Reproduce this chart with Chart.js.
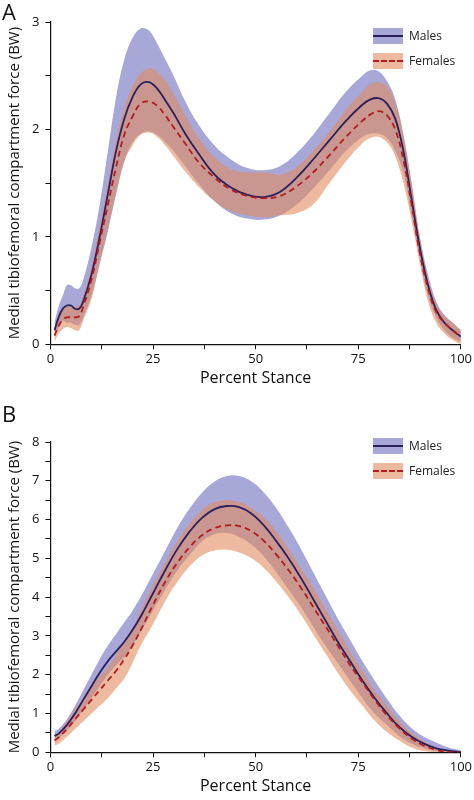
<!DOCTYPE html>
<html><head><meta charset="utf-8">
<script src="https://cdn.jsdelivr.net/npm/chart.js@4"></script>
<style>
body{margin:0;background:#fff;font-family:"Open Sans",sans-serif;}
.wrap{position:relative;width:474px;}
.lab{position:absolute;left:2px;font-size:22px;color:#111;}
.leg{position:absolute;font-size:12px;color:#222;}
.leg div{position:relative;height:22px;margin-bottom:3px;}
.sw{position:absolute;left:0;top:0;width:30px;height:16px;}
.ln{position:absolute;left:0;top:7px;width:30px;height:0;}
.leg span{position:absolute;left:36px;top:-1px;}
</style></head><body>
<div class="wrap" style="height:392px">
<div class="lab" style="top:-4px">A</div>
<canvas id="a" width="474" height="392"></canvas>
<div class="leg" style="left:373px;top:28px">
<div><i class="sw" style="background:rgba(120,120,195,0.65)"></i><i class="ln" style="border-top:2px solid #2a1f5c"></i><span>Males</span></div>
<div><i class="sw" style="background:rgba(225,140,95,0.6)"></i><i class="ln" style="border-top:2px dashed #b01c20"></i><span>Females</span></div>
</div></div>
<div class="wrap" style="height:408px">
<div class="lab" style="top:6px">B</div>
<canvas id="b" width="474" height="408"></canvas>
<div class="leg" style="left:373px;top:46px">
<div><i class="sw" style="background:rgba(120,120,195,0.65)"></i><i class="ln" style="border-top:2px solid #2a1f5c"></i><span>Males</span></div>
<div><i class="sw" style="background:rgba(225,140,95,0.6)"></i><i class="ln" style="border-top:2px dashed #b01c20"></i><span>Females</span></div>
</div></div>
<script>
const xA=[1,2,3,4,5,6,7,8,10,12,14,16,18,20,22,24,26,28,30,33,36,40,44,48,52,56,60,64,68,72,76,78,80,82,84,86,88,90,92,94,96,98,100];
const maleMeanA=[0.13,0.25,0.33,0.36,0.36,0.33,0.33,0.4,0.65,1.0,1.4,1.8,2.1,2.3,2.42,2.44,2.38,2.27,2.15,1.95,1.78,1.58,1.46,1.39,1.37,1.42,1.55,1.72,1.9,2.08,2.23,2.28,2.29,2.24,2.1,1.8,1.35,0.9,0.55,0.32,0.2,0.13,0.07];
const maleUpA=[0.2,0.35,0.45,0.55,0.55,0.52,0.52,0.6,0.9,1.3,1.8,2.3,2.65,2.85,2.94,2.92,2.8,2.65,2.5,2.25,2.05,1.85,1.72,1.64,1.62,1.66,1.78,1.95,2.15,2.35,2.5,2.55,2.54,2.45,2.28,1.95,1.5,1.0,0.65,0.4,0.27,0.2,0.13];
const maleLoA=[0.07,0.15,0.22,0.2,0.2,0.18,0.18,0.25,0.45,0.75,1.05,1.4,1.7,1.88,1.96,1.98,1.95,1.88,1.8,1.65,1.5,1.33,1.22,1.17,1.16,1.2,1.3,1.45,1.62,1.8,1.93,1.96,1.96,1.92,1.8,1.6,1.2,0.8,0.45,0.25,0.13,0.06,0.02];
const femMeanA=[0.08,0.17,0.23,0.25,0.25,0.25,0.26,0.35,0.6,0.95,1.3,1.65,1.95,2.12,2.24,2.26,2.22,2.13,2.02,1.86,1.7,1.55,1.44,1.38,1.36,1.38,1.47,1.6,1.76,1.93,2.08,2.14,2.17,2.13,2.0,1.72,1.3,0.85,0.52,0.3,0.2,0.13,0.07];
const femUpA=[0.15,0.25,0.33,0.35,0.35,0.35,0.36,0.45,0.72,1.1,1.5,1.9,2.2,2.4,2.52,2.57,2.54,2.45,2.33,2.12,1.93,1.74,1.63,1.6,1.6,1.58,1.65,1.8,1.98,2.18,2.35,2.42,2.44,2.4,2.25,1.95,1.5,1.0,0.62,0.38,0.27,0.2,0.13];
const femLoA=[0.02,0.1,0.14,0.16,0.15,0.13,0.13,0.22,0.42,0.75,1.08,1.4,1.7,1.85,1.95,1.97,1.93,1.85,1.75,1.6,1.47,1.33,1.24,1.2,1.18,1.2,1.22,1.3,1.5,1.7,1.87,1.92,1.93,1.88,1.75,1.5,1.15,0.75,0.4,0.2,0.1,0.04,0.0];

const xB=[1,2,4,6,8,10,12,14,16,18,20,22,25,28,31,34,37,40,43,46,49,52,55,58,61,64,67,70,73,76,79,82,85,88,91,94,97,100];
const maleMeanB=[0.42,0.48,0.7,1.0,1.35,1.7,2.05,2.35,2.6,2.85,3.15,3.5,4.1,4.7,5.25,5.7,6.05,6.27,6.35,6.32,6.15,5.85,5.45,5.0,4.5,3.95,3.4,2.85,2.35,1.85,1.4,1.0,0.65,0.4,0.22,0.1,0.04,0.0];
const maleUpB=[0.55,0.6,0.85,1.2,1.6,2.0,2.4,2.75,3.05,3.35,3.65,4.0,4.6,5.2,5.8,6.3,6.7,6.98,7.12,7.12,6.98,6.7,6.3,5.8,5.25,4.65,4.05,3.45,2.9,2.35,1.85,1.38,0.95,0.62,0.4,0.25,0.12,0.05];
const maleLoB=[0.3,0.35,0.55,0.8,1.1,1.4,1.7,2.0,2.25,2.45,2.75,3.1,3.65,4.2,4.7,5.1,5.45,5.62,5.65,5.55,5.35,5.05,4.65,4.2,3.75,3.25,2.75,2.3,1.85,1.4,1.0,0.7,0.42,0.22,0.1,0.03,0.0,0.0];
const femMeanB=[0.3,0.38,0.6,0.85,1.1,1.35,1.6,1.85,2.1,2.4,2.75,3.15,3.8,4.4,4.9,5.3,5.6,5.78,5.85,5.83,5.7,5.45,5.1,4.7,4.25,3.75,3.25,2.75,2.25,1.8,1.35,0.95,0.62,0.35,0.17,0.06,0.0,0.0];
const femUpB=[0.42,0.52,0.8,1.1,1.4,1.7,1.95,2.2,2.5,2.85,3.2,3.65,4.3,4.9,5.45,5.9,6.25,6.45,6.5,6.45,6.3,6.05,5.7,5.25,4.75,4.25,3.7,3.15,2.6,2.1,1.6,1.2,0.8,0.5,0.28,0.12,0.05,0.02];
const femLoB=[0.18,0.22,0.4,0.6,0.8,1.0,1.2,1.4,1.65,1.9,2.3,2.75,3.3,3.9,4.4,4.8,5.08,5.2,5.22,5.15,5.0,4.75,4.4,4.0,3.55,3.05,2.55,2.05,1.6,1.2,0.82,0.52,0.3,0.12,0.03,0.0,0.0,0.0];

const xTicks=[0,25,50,75,100];
const FONT="'Open Sans',sans-serif";
function pts(x,y){return x.map((v,i)=>({x:v,y:y[i]}));}
function make(id,x,mm,mu,ml,fm,fu,fl,ymax,ystep,pad){
  const band=(d,c,f,o)=>({data:pts(x,d),borderWidth:0,pointRadius:0,tension:0.4,backgroundColor:c,fill:f,order:o});
  new Chart(document.getElementById(id),{type:'line',
    data:{datasets:[
      band(mu,'rgba(120,120,195,0.65)','+1',3),
      band(ml,'rgba(120,120,195,0.65)',false,3),
      band(fu,'rgba(225,140,95,0.6)','+1',2),
      band(fl,'rgba(225,140,95,0.6)',false,2),
      {data:pts(x,mm),borderColor:'#2a1f5c',borderWidth:1.8,pointRadius:0,tension:0.4,fill:false,order:1},
      {data:pts(x,fm),borderColor:'#b01c20',borderWidth:1.8,borderDash:[6,4],pointRadius:0,tension:0.4,fill:false,order:0}
    ]},
    options:{responsive:false,animation:false,
      layout:{padding:pad},
      plugins:{legend:{display:false},tooltip:{enabled:false}},
      scales:{
        x:{type:'linear',min:0,max:100,
          afterBuildTicks:a=>{a.ticks=[0,12.5,25,37.5,50,62.5,75,87.5,100].map(v=>({value:v}));},
          ticks:{callback:v=>xTicks.includes(v)?v:'',color:'#111',font:{family:FONT,size:13},maxRotation:0,padding:2},
          grid:{drawOnChartArea:false,tickLength:5,color:'#111'},border:{color:'#111',width:1.2},
          title:{display:true,text:'Percent Stance',color:'#111',font:{family:FONT,size:16},padding:{top:0}}},
        y:{min:0,max:ymax,
          afterBuildTicks:a=>{const t=[];for(let v=0;v<=ymax+1e-9;v+=ystep/2)t.push({value:+v.toFixed(2)});a.ticks=t;},
          ticks:{callback:v=>(Math.abs(v/ystep-Math.round(v/ystep))<1e-6)?v:'',color:'#111',font:{family:FONT,size:13},padding:6},
          grid:{drawOnChartArea:false,tickLength:5,color:'#111'},border:{color:'#111',width:1.2},
          title:{display:true,text:'Medial tibiofemoral compartment force (BW)',color:'#111',font:{family:FONT,size:15},padding:{bottom:2}}}
      }}});
}
make('a',xA,maleMeanA,maleUpA,maleLoA,femMeanA,femUpA,femLoA,3,1,{top:22,right:12,left:2,bottom:0});
make('b',xB,maleMeanB,maleUpB,maleLoB,femMeanB,femUpB,femLoB,8,1,{top:50,right:12,left:2,bottom:0});
</script></body></html>
